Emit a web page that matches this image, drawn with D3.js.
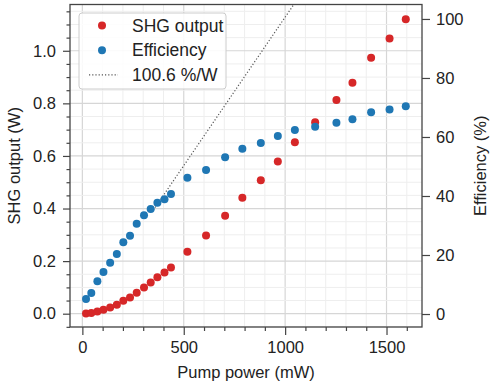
<!DOCTYPE html>
<html>
<head>
<meta charset="utf-8">
<script src="https://cdn.jsdelivr.net/npm/d3@7"></script>
<style>
  body { margin: 0; background: #fff; }
  svg text { font-family: "Liberation Sans", Arial, sans-serif; fill: #222; }
</style>
</head>
<body>
<svg id="chart" width="500" height="388"></svg>
<script>
// pump power (mW)
const pump = [18, 44, 74, 104, 137, 170, 202, 235, 268, 304, 337, 370, 405, 437,
  518, 610, 704, 789, 880, 964, 1048, 1148, 1253, 1332, 1424, 1515, 1595];
// SHG output (W)
const shg = [0.001, 0.003, 0.008, 0.015, 0.024, 0.034, 0.049, 0.062, 0.080, 0.100, 0.119, 0.139, 0.157, 0.176,
  0.236, 0.297, 0.373, 0.441, 0.508, 0.579, 0.652, 0.728, 0.813, 0.878, 0.973, 1.047, 1.120];
// efficiency (%)
const efficiency = [5.1, 7.1, 11.1, 14.2, 17.4, 20.3, 24.3, 26.5, 30.6, 33.5, 35.6, 37.7, 38.9, 40.7,
  46.2, 48.8, 53.1, 56.0, 58.0, 60.3, 62.4, 63.5, 64.8, 66.0, 68.4, 69.3, 70.4];
const fitSlope = 100.6;          // %/W
const fitRange = [350, 1100];    // mW
const xTicks = [0, 500, 1000, 1500];
const yTicks = [0, 0.2, 0.4, 0.6, 0.8, 1.0];
const y2Ticks = [0, 20, 40, 60, 80, 100];

const width = 500, height = 388;
const margin = {top: 4.5, right: 78, bottom: 61, left: 70};
const red = "#d62728", blue = "#1f77b4";
const fs = 16.5;

const svg = d3.select("#chart");

const x = d3.scaleLinear().domain([-61, 1675]).range([margin.left, width - margin.right]);
const y = d3.scaleLinear().domain([-0.0506, 1.176]).range([height - margin.bottom, margin.top]);
const y2 = d3.scaleLinear().domain([-4.4, 104.9]).range([height - margin.bottom, margin.top]);

svg.append("clipPath").attr("id", "clip")
  .append("rect")
  .attr("x", margin.left).attr("y", margin.top)
  .attr("width", width - margin.left - margin.right)
  .attr("height", height - margin.top - margin.bottom);

// grid
const isMajorY = d => Math.abs(Math.round(d / 0.2) * 0.2 - d) < 1e-6;
const grid = svg.append("g");
const xMinor = d3.range(0, 1700, 100);
const yMinor = d3.range(-0.05, 1.18, 0.05);
grid.selectAll(".vx").data(xMinor).enter().append("line")
  .attr("x1", d => x(d)).attr("x2", d => x(d))
  .attr("y1", margin.top).attr("y2", height - margin.bottom)
  .attr("stroke", d => d % 500 === 0 ? "#d6d6d6" : "#eeeeee")
  .attr("stroke-width", d => d % 500 === 0 ? 1.2 : 1);
grid.selectAll(".hy").data(yMinor).enter().append("line")
  .attr("x1", margin.left).attr("x2", width - margin.right)
  .attr("y1", d => y(d)).attr("y2", d => y(d))
  .attr("stroke", d => isMajorY(d) ? "#d6d6d6" : "#eeeeee")
  .attr("stroke-width", d => isMajorY(d) ? 1.2 : 1);

// axes
svg.append("g")
  .attr("transform", `translate(0, ${height - margin.bottom})`)
  .call(d3.axisBottom(x).tickValues(xTicks).tickFormat(d3.format("d")).tickSize(8).tickPadding(6));
svg.append("g")
  .attr("transform", `translate(0, ${height - margin.bottom})`)
  .call(d3.axisBottom(x).tickValues(xMinor.filter(d => d % 500 !== 0)).tickSize(4).tickFormat(""));
svg.append("g")
  .attr("transform", `translate(${margin.left}, 0)`)
  .call(d3.axisLeft(y).tickValues(yTicks).tickFormat(d3.format(".1f")).tickSize(7).tickPadding(7));
svg.append("g")
  .attr("transform", `translate(${margin.left}, 0)`)
  .call(d3.axisLeft(y).tickValues(yMinor.filter(d => !isMajorY(d))).tickSize(3.5).tickFormat(""));
svg.append("g")
  .attr("transform", `translate(${width - margin.right}, 0)`)
  .call(d3.axisRight(y2).tickValues(y2Ticks).tickSize(8).tickPadding(6));

svg.selectAll(".domain").remove();
svg.selectAll(".tick line").attr("stroke", "#444").attr("stroke-width", 1.2);
svg.selectAll(".tick text").attr("font-size", fs).attr("fill", "#222")
  .style("font-family", "'Liberation Sans', Arial, sans-serif");

svg.append("rect")
  .attr("x", margin.left).attr("y", margin.top)
  .attr("width", width - margin.left - margin.right)
  .attr("height", height - margin.top - margin.bottom)
  .attr("fill", "none").attr("stroke", "#444").attr("stroke-width", 1.3);

// marks
const plot = svg.append("g").attr("clip-path", "url(#clip)");
plot.selectAll(".shg").data(pump).enter().append("circle")
  .attr("cx", d => x(d)).attr("cy", (d, i) => y(shg[i])).attr("r", 4).attr("fill", red);
plot.append("line")
  .attr("x1", x(fitRange[0])).attr("y1", y2(fitSlope * fitRange[0] / 1000))
  .attr("x2", x(fitRange[1])).attr("y2", y2(fitSlope * fitRange[1] / 1000))
  .attr("stroke", "#555").attr("stroke-width", 1.2).attr("stroke-dasharray", "1.2,2");
plot.selectAll(".eff").data(pump).enter().append("circle")
  .attr("cx", d => x(d)).attr("cy", (d, i) => y2(efficiency[i])).attr("r", 4).attr("fill", blue);

// axis labels
svg.append("text").attr("x", (margin.left + width - margin.right) / 2).attr("y", 378)
  .attr("text-anchor", "middle").attr("font-size", fs).text("Pump power (mW)");
svg.append("text").attr("transform", `translate(20, ${(margin.top + height - margin.bottom) / 2}) rotate(-90)`)
  .attr("text-anchor", "middle").attr("font-size", fs).text("SHG output (W)");
svg.append("text").attr("transform", `translate(486, ${(margin.top + height - margin.bottom) / 2}) rotate(-90)`)
  .attr("text-anchor", "middle").attr("font-size", fs).text("Efficiency (%)");

// legend
const legend = svg.append("g");
legend.append("rect").attr("x", 79).attr("y", 13).attr("width", 147).attr("height", 76).attr("rx", 3)
  .attr("fill", "rgba(255,255,255,0.85)").attr("stroke", "#ccc");
const items = [
  {label: "SHG output", color: red, type: "dot"},
  {label: "Efficiency", color: blue, type: "dot"},
  {label: "100.6 %/W", color: "#555", type: "line"}
];
items.forEach((it, i) => {
  const cy = 25.5 + i * 24.7;
  if (it.type === "dot") {
    legend.append("circle").attr("cx", 102).attr("cy", cy).attr("r", 4).attr("fill", it.color);
  } else {
    legend.append("line").attr("x1", 89).attr("x2", 118).attr("y1", cy).attr("y2", cy)
      .attr("stroke", it.color).attr("stroke-width", 1.2).attr("stroke-dasharray", "1.2,2");
  }
  legend.append("text").attr("x", 132).attr("y", cy + 6).attr("font-size", 17.5).text(it.label);
});
</script>
</body>
</html>
